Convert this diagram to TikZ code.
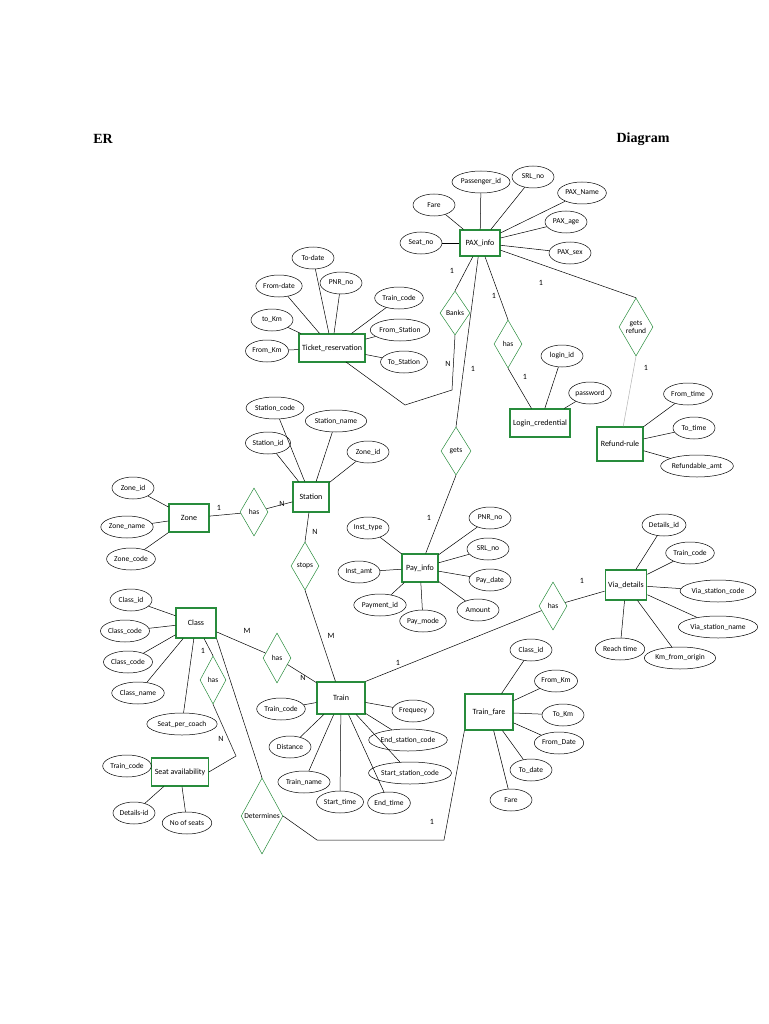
\documentclass[tikz,border=0pt]{standalone}
\usepackage{fontspec}
\setmainfont{Carlito}
\usetikzlibrary{shapes.geometric}
\definecolor{erg}{RGB}{40,140,60}
\begin{document}
\begin{tikzpicture}[x=1pt,y=-1pt,
  ent/.style={draw=erg,line width=1.2pt,rectangle,minimum height=26pt,inner xsep=3pt,font=\fontsize{8}{9}\selectfont},
  att/.style={draw,ellipse,inner xsep=0.5pt,inner ysep=1pt,minimum height=22pt,minimum width=42pt,font=\fontsize{7.5}{8}\selectfont},
  rel/.style={draw=erg,diamond,aspect=0.6,inner sep=1pt,minimum width=30pt,minimum height=48pt,font=\fontsize{7.5}{8}\selectfont},
  lab/.style={font=\fontsize{8}{9}\selectfont},
  every path/.style={line width=0.5pt}]
\useasboundingbox (0,0) rectangle (768,1024);
\node (t1) at (103,139) {\fontspec{Liberation Serif}\bfseries\fontsize{14}{16}\selectfont ER};
\node (t2) at (643,139) {\fontspec{Liberation Serif}\bfseries\fontsize{14}{16}\selectfont Diagram};
% entities
\node[ent,minimum width=40pt] (pax) at (480,243) {PAX\_info};
\node[ent,minimum width=62pt,minimum height=28pt] (tr) at (332,348) {Ticket\_reservation};
\node[ent,minimum width=56pt,minimum height=28pt] (login) at (540,423) {Login\_credential};
\node[ent,minimum width=46pt,minimum height=34pt] (refund) at (620,444) {Refund-rule};
\node[ent,minimum width=36pt,minimum height=30pt] (station) at (311,497) {Station};
\node[ent,minimum width=40pt,minimum height=28pt] (zone) at (189,518) {Zone};
\node[ent,minimum width=36pt,minimum height=28pt] (pay) at (420,568) {Pay\_info};
\node[ent,minimum width=40pt,minimum height=30pt] (via) at (626,585) {Via\_details};
\node[ent,minimum width=40pt,minimum height=30pt] (class) at (196,623) {Class};
\node[ent,minimum width=54pt,minimum height=28pt] (seat) at (180,772) {Seat availability};
\node[ent,minimum width=48pt,minimum height=32pt] (train) at (341,698) {Train};
\node[ent,minimum width=48pt,minimum height=36pt] (tf) at (489,712) {Train\_fare};
% relationships
\node[rel,minimum width=30pt,minimum height=44pt] (banks) at (455,313) {Banks};
\node[rel,minimum width=34pt,minimum height=58pt,align=center] (getsref) at (636,327) {gets\\refund};
\node[rel,minimum width=28pt] (has1) at (508,344) {has};
\node[rel] (gets) at (456,451) {gets};
\node[rel,minimum width=28pt] (hasz) at (254,512) {has};
\node[rel,minimum width=28pt] (stops) at (305,566) {stops};
\node[rel,minimum width=28pt] (hasv) at (553,606) {has};
\node[rel,minimum width=28pt,minimum height=50pt] (hasct) at (277,658) {has};
\node[rel,minimum width=26pt] (hascs) at (213,680) {has};
\node[rel,minimum width=40pt,minimum height=76pt] (det) at (262,816) {Determines};
% attributes
\foreach \n/\x/\y/\t/\e in {
 a1/434/205/Fare/pax, a2/481/182/Passenger\_id/pax, a3/533/177/SRL\_no/pax, a4/582/193/PAX\_Name/pax,
 a5/566/222/PAX\_age/pax, a6/570/253/PAX\_sex/pax, a7/421/243/Seat\_no/pax,
 b1/313/258/To-date/tr, b2/279/286/From-date/tr, b3/341/283/PNR\_no/tr, b4/399/298/Train\_code/tr,
 b5/400/330/From\_Station/tr, b6/404/362/To\_Station/tr, b7/272/320/to\_Km/tr, b8/267/351/From\_Km/tr,
 c1/562/356/login\_id/login, c2/590/393/password/login,
 d1/688/394/From\_time/refund, d2/694/428/To\_time/refund, d3/697/466/Refundable\_amt/refund,
 e1/275/408/Station\_code/station, e2/336/421/Station\_name/station, e3/268/443/Station\_id/station, e4/368/452/Zone\_id/station,
 f1/133/488/Zone\_id/zone, f2/127/527/Zone\_name/zone, f3/131/559/Zone\_code/zone,
 g1/368/528/Inst\_type/pay, g2/490/518/PNR\_no/pay, g3/488/549/SRL\_no/pay, g4/490/580/Pay\_date/pay,
 g5/478/610/Amount/pay, g6/423/621/Pay\_mode/pay, g7/380/605/Payment\_id/pay, g8/359/572/Inst\_amt/pay,
 h1/664/525/Details\_id/via, h2/690/553/Train\_code/via, h3/718/591/Via\_station\_code/via,
 h4/718/627/Via\_station\_name/via, h5/620/649/Reach time/via, h6/680/658/Km\_from\_origin/via,
 i1/131/600/Class\_id/class, i2/125/631/Class\_code/class, i3/128/662/Class\_code/class,
 i4/138/693/Class\_name/class, i5/182/724/Seat\_per\_coach/class,
 j1/127/766/Train\_code/seat, j2/134/813/Details-id/seat, j3/187/823/No of seats/seat,
 k1/281/709/Train\_code/train, k2/290/747/Distance/train, k3/304/782/Train\_name/train, k4/340/802/Start\_time/train,
 k5/389/803/End\_time/train, k6/410/773/Start\_station\_code/train, k7/408/740/End\_station\_code/train, k8/413/711/Frequecy/train,
 l1/531/650/Class\_id/tf, l2/556/681/From\_Km/tf, l3/563/715/To\_Km/tf, l4/559/743/From\_Date/tf,
 l5/531/770/To\_date/tf, l6/511/800/Fare/tf}
{ \node[att] (\n) at (\x,\y) {\t}; \draw (\e) -- (\n); }
% connectors
\coordinate (bk1) at (452,390); \coordinate (bk2) at (405,405); \coordinate (bk3) at (346,362);
\draw (pax) -- (banks.north); \draw (banks.south) -- (bk1) -- (bk2) -- (bk3);
\draw (pax) -- (gets.north); \draw (gets.south) -- (pay);
\draw (pax) -- (has1.north); \draw (has1.south) -- (login);
\draw (pax) -- (getsref.north); \draw[gray!60] (getsref.south) -- (refund);
\draw (zone) -- (hasz); \draw (hasz) -- (station);
\draw (station) -- (stops.north); \draw (stops.south) -- (train);
\draw (class) -- (hasct); \draw (hasct) -- (train);
\coordinate (cs1) at (236,756);
\draw (class) -- (hascs.north); \draw (hascs.south) -- (cs1) -- (seat.east);
\coordinate (dt1) at (317,840); \coordinate (dt2) at (444,840);
\draw (class.south east) -- (det.north); \draw (det.east) -- (dt1) -- (dt2) -- (tf.south west);
\draw (train.north east) -- (hasv); \draw (hasv) -- (via);
% labels
\node[lab] (n1) at (452,271) {1}; \node[lab] (n2) at (448,364) {N};
\node[lab] (n3) at (494,296) {1}; \node[lab] (n4) at (525,377) {1};
\node[lab] (n5) at (541,283) {1}; \node[lab] (n6) at (646,368) {1};
\node[lab] (n7) at (473,369) {1}; \node[lab] (n8) at (429,518) {1};
\node[lab] (n9) at (219,508) {1}; \node[lab] (n10) at (282,504) {N};
\node[lab] (n11) at (315,532) {N}; \node[lab] (n12) at (331,636) {M};
\node[lab] (n13) at (247,631) {M}; \node[lab] (n14) at (303,678) {N};
\node[lab] (n15) at (203,651) {1}; \node[lab] (n16) at (221,739) {N};
\node[lab] (n17) at (582,581) {1}; \node[lab] (n18) at (398,663) {1};
\node[lab] (n19) at (432,822) {1};
\end{tikzpicture}
\end{document}
